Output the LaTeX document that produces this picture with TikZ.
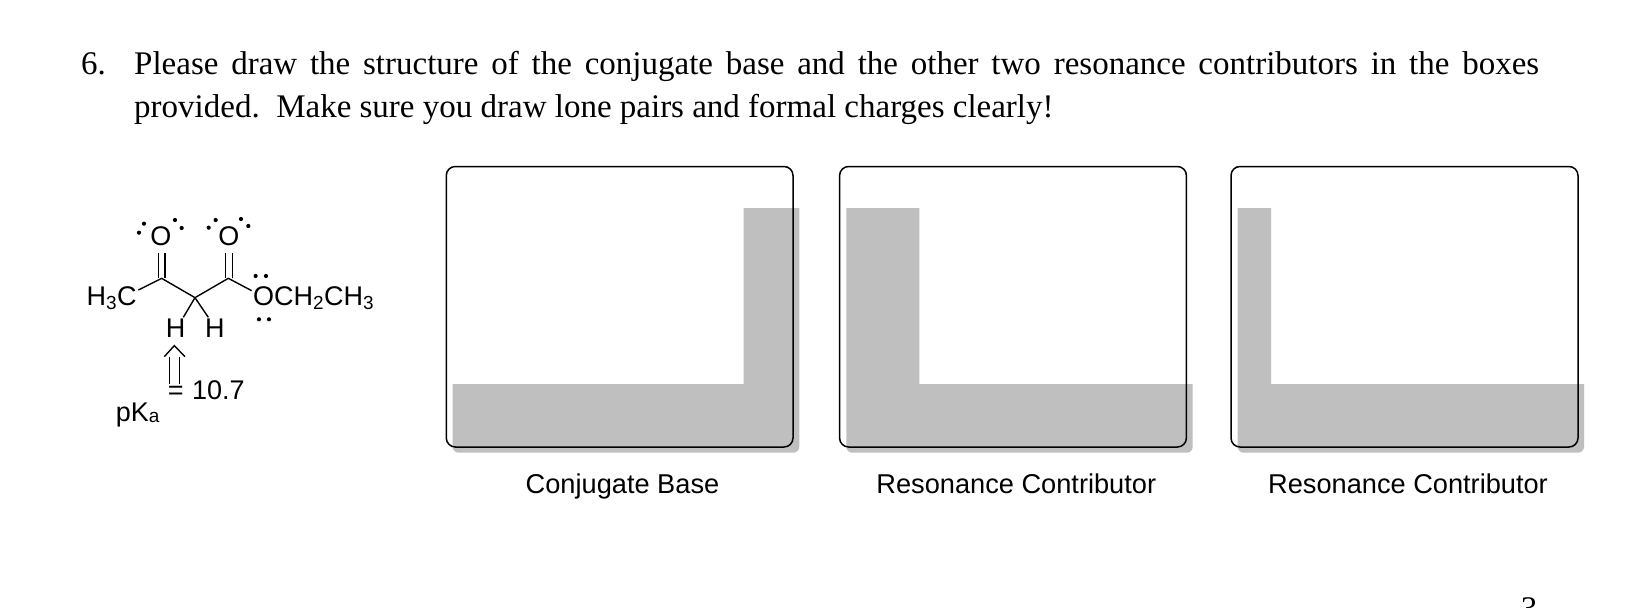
\documentclass[tikz,border=0pt]{standalone}
\usepackage{fontspec}
\setmainfont{Liberation Serif}
\newfontfamily\labelfont{Liberation Sans}
\tikzset{
  answerbox/.style={draw=black,line width=1.5pt,rounded corners=9pt},
  caption/.style={font=\labelfont\fontsize{27.2}{30}\selectfont,anchor=base,inner sep=0pt},
  qtext/.style={font=\fontsize{33}{38}\selectfont,anchor=base west,inner sep=0pt},
  atom/.style={font=\labelfont\fontsize{27}{30}\selectfont,inner sep=0pt,anchor=base},
  bond/.style={line width=1.4pt,black},
  lp/.style={fill=black,circle,inner sep=0pt,minimum size=4.2pt}
}
\begin{document}
\begin{tikzpicture}[x=1pt,y=-1pt]
\useasboundingbox (0,0) rectangle (1642,608);
\clip (0,0) rectangle (1642,608);
\fill[white] (0,0) rectangle (1642,608);
% question
\node[qtext] (num) at (81,74) {6.};
\node[qtext] (l1) at (134,74) {\makebox[1405pt][s]{Please draw the structure of the conjugate base and the other two resonance contributors in the boxes}};
\node[qtext] (l2) at (134,117) {provided.\ \ Make sure you draw lone pairs and formal charges clearly!};
% shadows
\fill[black!25] (743.7,208) -- (799.3,208) -- (799.3,446.7) arc[start angle=0,end angle=90,radius=6] -- (458.7,452.7) arc[start angle=90,end angle=180,radius=6] -- (452.7,384) -- (743.7,384) -- cycle;
\fill[black!25] (846.3,208) -- (919.3,208) -- (919.3,384) -- (1192.7,384) -- (1192.7,446.7) arc[start angle=0,end angle=90,radius=6] -- (852.3,452.7) arc[start angle=90,end angle=180,radius=6] -- cycle;
\fill[black!25] (1237.7,208) -- (1271,208) -- (1271,384) -- (1584,384) -- (1584,446.7) arc[start angle=0,end angle=90,radius=6] -- (1243.7,452.7) arc[start angle=90,end angle=180,radius=6] -- cycle;
% boxes
\draw[answerbox] (446.3,166.5) rectangle (793,447);
\draw[answerbox] (839.6,166.5) rectangle (1186.4,447);
\draw[answerbox] (1231,166.5) rectangle (1578,447);
% captions
\node[caption] (c1) at (622.5,493.5) {Conjugate Base};
\node[caption] (c2) at (1016.3,493.5) {Resonance Contributor};
\node[caption] (c3) at (1408,493.5) {Resonance Contributor};
\node[qtext,anchor=base] (page) at (1529,619) {3};
% molecule
\begin{scope}[shift={(70,200)},x=0.3333pt,y=-0.3333pt]
\coordinate (ch3) at (205,270);
\coordinate (c1a) at (275,235);
\coordinate (c2a) at (375,293);
\coordinate (c3a) at (475,235);
\coordinate (oe) at (545,272);
\coordinate (h1) at (340,352);
\coordinate (h2) at (415,352);
\node[atom] (ha) at (125,316) {H\textsubscript{3}C};
\node[atom] (o1) at (273,138) {O};
\node[atom] (o2) at (477,138) {O};
\node[atom] (oet) at (731,316) {OCH\textsubscript{2}CH\textsubscript{3}};
\node[atom] (h1n) at (317,413) {H};
\node[atom] (h2n) at (435,413) {H};
\draw[bond] (ch3) -- (c1a) -- (c2a) -- (c3a) -- (oe);
\draw[bond] (c2a) -- (h1);
\draw[bond] (c2a) -- (h2);
\draw[bond] (265,235) -- (265,160);
\draw[bond] (285,235) -- (285,160);
\draw[bond] (467,235) -- (467,160);
\draw[bond] (487,235) -- (487,160);
\foreach \p in {(207,98),(222,71),(315,60),(335,84),(416,83),(437,60),(513,57),(535,78),(557,228),(588,228),(567,358),(597,358)}
  \node[lp] at \p {};
% arrow
\draw[bond] (283,470) -- (313,437) -- (345,470);
\draw[bond] (298,470) -- (298,552);
\draw[bond] (328,470) -- (328,552);
\node[atom] (eq) at (317,600) {=};
\node[atom] (val) at (445,600) {10.7};
\node[atom] (pka) at (203,664) {pK\raisebox{-1pt}{\fontsize{19}{20}\selectfont a}};
\end{scope}
\end{tikzpicture}
\end{document}
